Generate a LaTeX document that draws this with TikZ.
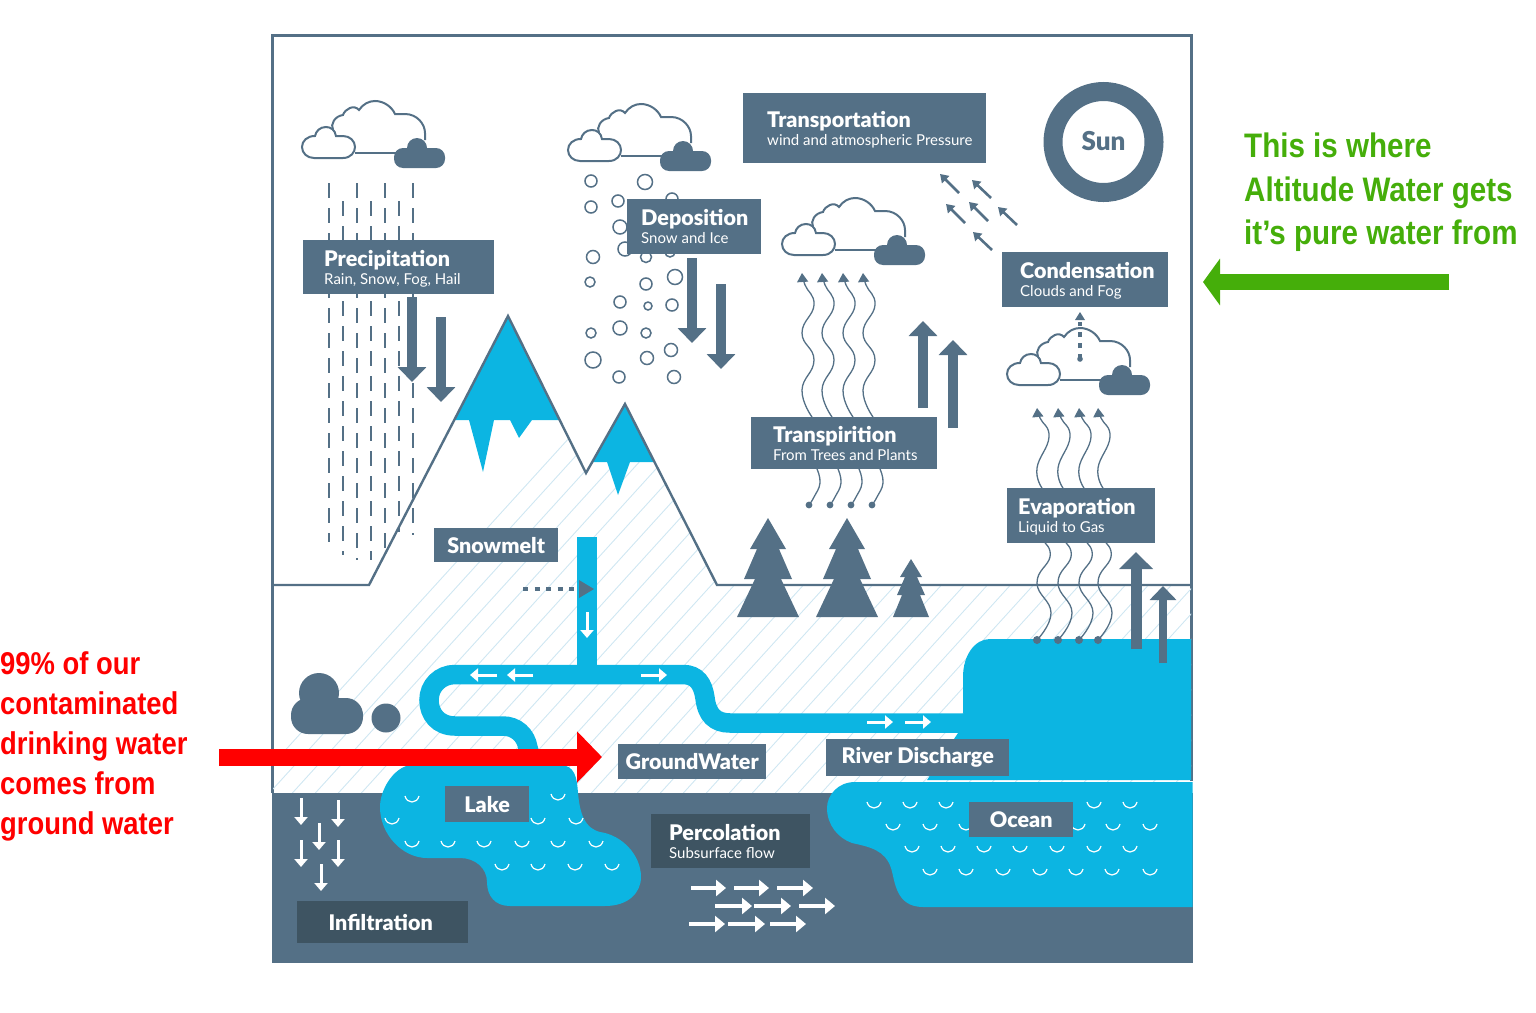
\documentclass[tikz,border=0pt]{standalone}
\usepackage{fontspec}
\setmainfont{Lato}[BoldFont={Lato Black}]
\newfontfamily\notefont[FakeStretch=0.87]{Liberation Sans}
\usetikzlibrary{arrows.meta}
\definecolor{slate}{HTML}{547086}
\definecolor{deepslate}{HTML}{3E5462}
\definecolor{water}{HTML}{0CB5E2}
\definecolor{hatchblue}{HTML}{CFE7F2}
\definecolor{notegreen}{HTML}{45AE0A}
\newcommand{\twolines}[4]{\hspace*{#1}\parbox{#2}{\offinterlineskip\raggedright\rule{0pt}{22pt}\smash{\bfseries\fontsize{21.5}{22}\selectfont #3}\\\rule[-6pt]{0pt}{24pt}\smash{\fontsize{15}{15}\selectfont #4}}}
\tikzset{
	labelbox/.style={anchor=north west,fill=slate,text=white,inner sep=0pt,align=left},
	plainbox/.style={anchor=north west,fill=slate,text=white,inner sep=0pt,align=center},
	boxtitle/.style={font=\bfseries\fontsize{21.5}{22}\selectfont},
	bigdown/.style={slate,line width=9.5pt,-{Triangle[width=28pt,length=15pt]}},
	smallslate/.style={slate,line width=2.6pt,-{Triangle[width=10pt,length=8pt]}},
	whitearrow/.style={white,line width=3pt,-{Triangle[width=13pt,length=8pt]}},
	widewhite/.style={white,line width=3.6pt,-{Triangle[width=16pt,length=10pt]}},
	wavy/.style={slate,line width=1.3pt},
	wave/.style={white,line width=1.2pt},
	rain/.style={slate,line width=1.2pt,dash pattern=on 15pt off 10pt},
	snowball/.style={slate,line width=1.5pt,fill=white},
	rivercourse/.style={water,line width=19.5pt},
	notetext/.style={anchor=north west,inner sep=0pt,align=left},
	cloudpic/.pic={
		\draw[slate,line width=2pt] (31,30) .. controls (28,24) and (33,16) .. (41,15) .. controls (43,9) and (52,4) .. (57,10) .. controls (61,4) and (67,1) .. (73,1) .. controls (82,1) and (90,7) .. (93,14) -- (103,14) .. controls (115,14) and (123,24) .. (123,33) -- (123,40);
		\draw[slate,line width=2pt] (53,53) -- (95,53);
		\draw[slate,line width=2pt,fill=white] (12,58) -- (41,58) .. controls (49,58) and (53,52) .. (53,47) .. controls (53,41) and (48,36) .. (41,36) -- (34,36) .. controls (33,30) and (29,27) .. (24,27) .. controls (18,27) and (14,31) .. (13,36) .. controls (5,36) and (0,41) .. (0,47) .. controls (0,53) and (5,58) .. (12,58) -- cycle;
		\fill[slate,rounded corners=9pt] (92,48) rectangle (143,68);
		\fill[slate] (115,48) circle (10pt);
	}
}
\begin{document}
\begin{tikzpicture}[x=1pt,y=-1pt]
	\useasboundingbox (0,0) rectangle (1536,1012);
	% sky frame and ground
	\draw[slate,line width=2.4pt] (272.5,793) -- (272.5,35.5) -- (1191.5,35.5) -- (1191.5,781);
	\begin{scope}
		\clip (273,585) -- (369,585) -- (508,316) -- (586,473) -- (625,404) -- (717,585) -- (1191,585) -- (1191,793) -- (273,793) -- cycle;
		\foreach \i in {0,...,60}
		{
			\draw[hatchblue,line width=0.9pt] (\i*23+240,800) -- (\i*23+240+500,250);
		}
	\end{scope}
	\fill[slate] (271.5,793) rectangle (1192.5,962.5);
	% mountains
	\fill[water] (454,420) -- (508,316) -- (560,420) -- (532,420) -- (519,438) -- (510,420) -- (494,420) -- (483,472) -- (469,420) -- cycle;
	\fill[water] (592,462) -- (625,404) -- (654,462) -- (630,462) -- (618,495) -- (607,462) -- cycle;
	\draw[slate,line width=2.4pt] (273,585) -- (369,585) -- (508,316) -- (586,473) -- (625,404) -- (717,585) -- (1191,585);
	% clouds
	\pic at (302,100) {cloudpic};
	\pic at (568,103) {cloudpic};
	\pic at (782,197) {cloudpic};
	\pic at (1007,327) {cloudpic};
	% rain
	\foreach \x/\ya/\yb in {329/183/542,343/201/555,357/183/560,371/201/560,385/183/548,399/201/532,413/183/535}
	{
		\draw[rain] (\x,\ya) -- (\x,\yb);
	}
	% snow
	\foreach \x/\y/\r in {591/181/6,645/182/7.5,618/201/6,672/199/6,591/207/6,620/227/7,625/249/7,593/257/6.5,646/257/5.5,670/252/5,590/282/5,646/284/6,675/277/7.5,620/302/6,648/306/4,672/305/6,591/333/5,620/328/7,646/333/5,671/350/6.5,593/360/8,647/358/6.5,619/377/6,674/377/6.5}
	{
		\draw[snowball] (\x,\y) circle (\r pt);
	}
	% big arrows
	\draw[bigdown] (412,297) -- (412,382);
	\draw[bigdown] (441,317) -- (441,402);
	\draw[bigdown] (692,258) -- (692,343);
	\draw[bigdown] (721,284) -- (721,369);
	\draw[bigdown] (923,408) -- (923,321);
	\draw[bigdown] (953,428) -- (953,340);
	% arrows up to transportation
	\foreach \ax/\ay/\bx/\by in {959/193/940/174,991/198/972/180,965/223/946/204,988/221/969/202,1017/225/998/207,992/250/973/232}
	{
		\draw[smallslate] (\ax,\ay) -- (\bx,\by);
	}
	% transpiration lines
	\foreach \x in {802,822,843,863}
	{
		\draw[wavy,-{Triangle[width=11pt,length=9pt]}] plot[smooth,tension=0.8] coordinates {(\x+10,417) (\x,390) (\x+12,360) (\x,333) (\x+12,305) (\x+3,285) (\x,273)};
	}
	\foreach \x in {809,830,851,872}
	{
		\draw[wavy] plot[smooth,tension=0.8] coordinates {(\x+8,469) (\x+11,483) (\x+5,497) (\x,505)};
		\fill[slate] (\x,505) circle (3.4pt);
	}
	% evaporation lines
	\foreach \x in {1037,1058,1079,1098}
	{
		\draw[wavy,-{Triangle[width=11pt,length=9pt]}] plot[smooth,tension=0.8] coordinates {(\x+5,488) (\x,468) (\x+12,437) (\x+3,418) (\x,408)};
		\draw[wavy] plot[smooth,tension=0.8] coordinates {(\x+8,543) (\x+13,557) (\x,583) (\x+14,613) (\x,640)};
	}
	% condensation
	\draw[slate,line width=3.2pt,dash pattern=on 5pt off 6pt] (1080,359) -- (1080,322);
	\fill[slate] (1080,359) circle (2.8pt);
	\fill[slate] (1075,320) -- (1080,312) -- (1085,320) -- cycle;
	% trees
	\foreach \x in {768,847}
	{
		\fill[slate] (\x,518) -- (\x+18,549) -- (\x+11,549) -- (\x+24,579) -- (\x+13,579) -- (\x+31,617) -- (\x-31,617) -- (\x-13,579) -- (\x-24,579) -- (\x-11,549) -- (\x-18,549) -- cycle;
	}
	\fill[slate] (911,559) -- (922,577) -- (917,577) -- (925,595) -- (920,595) -- (929,617) -- (893,617) -- (902,595) -- (897,595) -- (905,577) -- (900,577) -- cycle;
	% rocks
	\fill[slate,rounded corners=17pt] (291,698) rectangle (363,734);
	\fill[slate] (319,693) circle (20pt);
	\fill[slate] (386,718) circle (14.5pt);
	% river
	\draw[rivercourse] (587,537) -- (587,675);
	\draw[rivercourse] (535,770) -- (528,748) .. controls (526,735) and (516,726) .. (503,726) -- (455,726) .. controls (438,726) and (429,714) .. (429,700) .. controls (429,686) and (440,674.5) .. (455,674.5) -- (683,674.5) .. controls (697,674.5) and (703,684) .. (705,698) .. controls (707,715) and (715,723) .. (730,723) -- (975,723);
	% ocean
	\fill[water] (963,713) -- (963,677) .. controls (963,655) and (975,639) .. (990,639) -- (1191,639) -- (1191,780) -- (927,780) -- (958,733) -- (975,733) -- cycle;
	\fill[water] (1192.5,782) -- (855,782) .. controls (838,782) and (827,795) .. (827,808) .. controls (827,825) and (838,838) .. (852,843) .. controls (870,847) and (885,850) .. (891,868) .. controls (895,880) and (895,907) .. (923,907) -- (1192.5,907) -- cycle;
	\foreach \x in {1037,1058,1079,1098}
	{
		\fill[slate] (\x,640) circle (4pt);
	}
	% lake
	\fill[water] (410,765) .. controls (393,768) and (380,790) .. (380,807) .. controls (380,835) and (403,858) .. (427,858) -- (460,858) .. controls (475,858) and (487,868) .. (487,882) .. controls (487,896) and (495,906) .. (510,906) -- (605,906) .. controls (628,906) and (641,893) .. (641,877) .. controls (641,855) and (622,835) .. (600,832) .. controls (585,828) and (580,815) .. (578,793) .. controls (577,778) and (575,765) .. (560,765) -- cycle;
	% little waves
	\foreach \x/\y in {412/800,558/798,392/822,538/822,576/822,412/845,448/845,484/845,522/845,558/845,596/845,502/868,538/868,575/868,612/868,874/806,910/806,946/806,1094/806,1130/806,893/828,930/828,966/828,1078/828,1113/828,1150/828,912/850,948/850,984/850,1020/850,1057/850,1094/850,1130/850,930/873,966/873,1003/873,1040/873,1076/873,1112/873,1150/873}
	{
		\draw[wave] (\x-7,\y-4) .. controls (\x-5,\y+4) and (\x+5,\y+4) .. (\x+7,\y-4);
	}
	% arrows in the river and the ground
	\draw[slate,line width=3.2pt,dash pattern=on 5pt off 6.5pt] (523,589) -- (579,589);
	\fill[slate] (579,580) -- (594,589) -- (579,598) -- cycle;
	\draw[whitearrow] (587,612) -- (587,638);
	\draw[whitearrow] (497,675) -- (470,675);
	\draw[whitearrow] (533,675) -- (507,675);
	\draw[whitearrow] (641,675) -- (667,675);
	\draw[whitearrow] (867,722) -- (893,722);
	\draw[whitearrow] (905,722) -- (931,722);
	\foreach \x/\ya/\yb in {301/798/825,338/800/827,319/823/850,301/840/867,338/840/867,321/864/891}
	{
		\draw[whitearrow] (\x,\ya) -- (\x,\yb);
	}
	\foreach \ax/\bx/\y in {691/726/888,734/769/888,777/813/888,715/752/906,754/791/906,799/835/906,689/725/924,728/765/924,770/806/924}
	{
		\draw[widewhite] (\ax,\y) -- (\bx,\y);
	}
	% evaporation big arrows over the sea
	\draw[slate,line width=11pt,-{Triangle[width=33pt,length=17pt]}] (1136,649) -- (1136,552);
	\draw[slate,line width=8pt,-{Triangle[width=26pt,length=14pt]}] (1163,663) -- (1163,586);
	% sun
	\node[circle,draw=slate,line width=19pt,fill=white,minimum size=101pt,inner sep=0pt,text=slate,font=\bfseries\fontsize{26}{26}\selectfont] (sun) at (1103.5,142) {\raisebox{2pt}{Sun}};
	% boxes
	\node[labelbox,minimum width=191pt,minimum height=54pt] (precipitation) at (303,240) {\twolines{21pt}{170pt}{Precipitation}{Rain, Snow, Fog, Hail}};
	\node[labelbox,minimum width=134pt,minimum height=55pt] (deposition) at (627,199) {\twolines{14pt}{120pt}{Deposition}{Snow and Ice}};
	\node[labelbox,minimum width=243pt,minimum height=70pt] (transportation) at (743,93) {\twolines{24pt}{219pt}{Transportation}{wind and atmospheric Pressure}};
	\node[labelbox,minimum width=166pt,minimum height=55pt] (condensation) at (1002,252) {\twolines{18pt}{148pt}{Condensation}{Clouds and Fog}};
	\node[labelbox,minimum width=186pt,minimum height=52pt] (transpirition) at (751,417) {\twolines{22pt}{164pt}{Transpirition}{From Trees and Plants}};
	\node[labelbox,minimum width=148pt,minimum height=55pt] (evaporation) at (1007,488) {\twolines{11pt}{137pt}{Evaporation}{Liquid to Gas}};
	\node[labelbox,fill=deepslate,minimum width=159pt,minimum height=54pt] (percolation) at (651,814) {\twolines{18pt}{141pt}{Percolation}{Subsurface flow}};
	\node[plainbox,boxtitle,minimum width=124pt,minimum height=34pt] (snowmelt) at (434,528) {Snowmelt};
	\node[plainbox,boxtitle,minimum width=148pt,minimum height=35pt] (groundwater) at (618,744) {GroundWater};
	\node[plainbox,boxtitle,minimum width=183pt,minimum height=37pt] (riverdischarge) at (826,739) {River Discharge};
	\node[plainbox,boxtitle,minimum width=84pt,minimum height=36pt] (lake) at (445,786) {Lake};
	\node[plainbox,boxtitle,minimum width=104pt,minimum height=35pt] (ocean) at (969,802) {Ocean};
	\node[plainbox,boxtitle,fill=deepslate,minimum width=171pt,minimum height=42pt] (infiltration) at (297,901) {Infiltration\hspace*{4pt}};
	% notes beside the figure
	\draw[red,line width=17pt,-{Triangle[width=50pt,length=25pt]}] (219,757) -- (602,757);
	\draw[notegreen,line width=16pt,-{Triangle[width=46pt,length=17pt]}] (1449,282) -- (1203,282);
	\node[notetext,text=notegreen,font=\notefont\bfseries\fontsize{34}{43.5}\selectfont] (greennote) at (1244,133) {This is where\\Altitude Water gets\\it’s pure water from};
	\node[notetext,text=red,font=\notefont\bfseries\fontsize{31.5}{40}\selectfont] (rednote) at (0,651) {99\% of our\\contaminated\\drinking water\\comes from\\ground water};
\end{tikzpicture}
\end{document}
